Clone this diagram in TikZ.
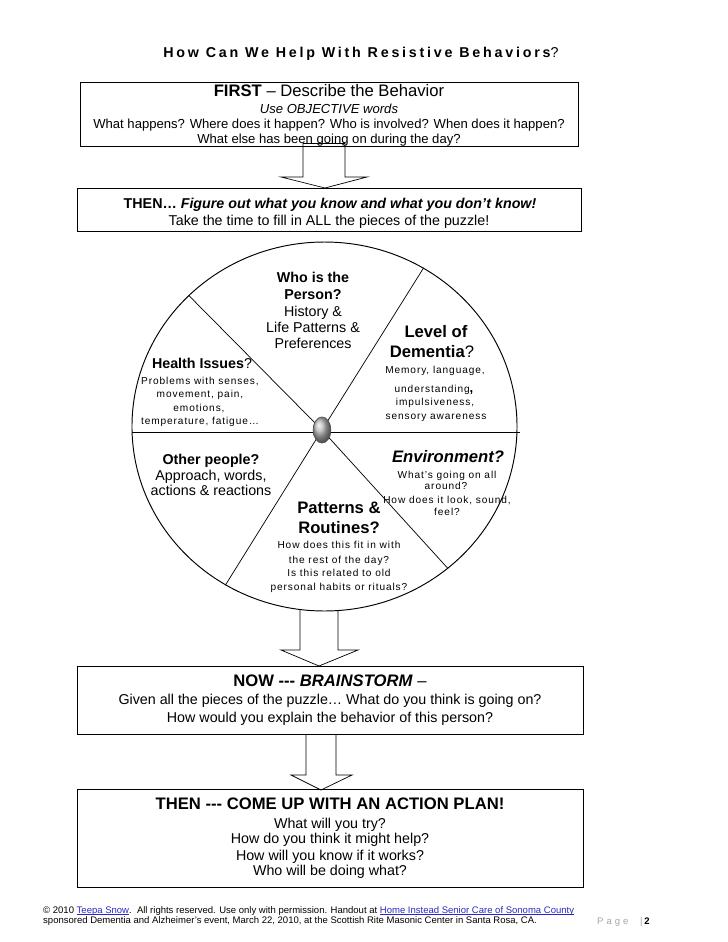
\documentclass[tikz,border=0pt]{standalone}
\usepackage{fontspec}
\setmainfont{Liberation Sans}
\newfontfamily\spc[LetterSpace=9]{Liberation Sans}
\newfontfamily\ttl[LetterSpace=19.5]{Liberation Sans}
\newfontfamily\pgf[LetterSpace=31]{Liberation Sans}
\usetikzlibrary{fit,shapes.geometric}
\definecolor{linkblue}{RGB}{40,40,200}
\newcommand\fsz[1]{\fontsize{#1}{#1}\selectfont}
\newcommand\hyp{-\kern0pt-\kern0pt-}
\newcommand\lnk[1]{\textcolor{linkblue}{\setbox0=\hbox{#1}\rlap{\rule[-1.2pt]{\wd0}{0.4pt}}\box0}}
\begin{document}
\begin{tikzpicture}[x=0.8407pt,y=-0.8407pt,
  box/.style={draw,line width=0.8pt,inner sep=0pt},
  t/.style={anchor=mid,inner sep=0pt,yshift=-2.4pt,font=\fsz{12pt}},
  t11/.style={t,font=\fsz{11pt}},
  tb/.style={t,font=\fsz{12pt}\bfseries},
  tbig/.style={t,font=\fsz{14pt}\bfseries},
  sm/.style={t,font=\spc\fsz{8.5pt}},
  foot/.style={anchor=mid west,inner sep=0pt,yshift=-0.9pt,font=\fsz{8pt}},
  blk/.style={draw,line width=0.6pt,line join=miter},
  spoke/.style={line width=0.6pt}]
\fill[white] (0,0) rectangle (728,942);
\useasboundingbox (0,0) rectangle (728,942);

% title
\node (title) [t, font=\ttl\fsz{12pt}\bfseries] at (361,52) {How Can We Help With Resistive Behaviors{\mdseries ?}};

% box 1
\node (b1) [box, fit={(80,82) (578,146)}] {};
\node (b1a) [t, font=\fsz{14pt}] at (329,91) {\textbf{FIRST} – Describe the Behavior};
\node (b1b) [t11, font=\fsz{11pt}\itshape] at (329,108) {Use OBJECTIVE words};
\node (b1c) [t11] at (329,122.5) {What happens? Where does it happen? Who is involved? When does it happen?};
\node (b1d) [t11] at (329,138) {What else has been going on during the day?};

% arrow 1
\draw[blk] (303,143.5) -- (303,177) -- (281,177) -- (325,188) -- (367,177) -- (345,177) -- (345,143.5) -- cycle;

% box 2
\node (b2) [box, fit={(77,188) (581,231)}] {};
\node (b2a) [tb] at (330,202) {THEN… \textit{Figure out what you know and what you don’t know!}};
\node (b2b) [t] at (329,219) {Take the time to fill in ALL the pieces of the puzzle!};

% wheel
\node (wheel) [draw, ellipse, line width=0.8pt, minimum width=323.7pt, minimum height=310.2pt, inner sep=0pt] at (324.5,426.5) {};
\coordinate (hc) at (322,430);
\coordinate (hl) at (132,432);
\coordinate (hr) at (520,432);
\draw[spoke] (hl) -- (hr);
\draw[spoke] (hc) -- (wheel.136);
\draw[spoke] (hc) -- (wheel.58);
\draw[spoke] (hc) -- (wheel.238.5);
\draw[spoke] (hc) -- (wheel.311.5);
\node (hub) [ellipse, draw=black!70, line width=0.5pt, minimum width=15pt, minimum height=22pt, inner sep=0pt, shading=ball, ball color=gray!55] at (hc) {};

% who is the person
\node (w1) [tb] at (313,276) {Who is the};
\node (w2) [tb] at (313,293) {Person?};
\node (w3) [t] at (313,310) {History \&};
\node (w4) [t] at (313,326) {Life Patterns \&};
\node (w5) [t] at (313,342) {Preferences};

% level of dementia
\node (d1) [tbig] at (436,331) {Level of};
\node (d2) [t, font=\fsz{14pt}] at (432,351) {\textbf{Dementia}?};
\node (d3) [sm] at (435,367) {Memory, language,};
\node (d4) [sm] at (434,386) {understanding{\fsz{11pt}\bfseries ,}};
\node (d5) [sm] at (435,399) {impulsiveness,};
\node (d6) [sm] at (436,413) {sensory awareness};

% health issues
\node (h1) [t] at (202,362) {\textbf{Health Issues}?};
\node (h2) [sm] at (200,378) {Problems with senses,};
\node (h3) [sm] at (200,391) {movement, pain,};
\node (h4) [sm] at (199,405) {emotions,};
\node (h5) [sm] at (200,418) {temperature, fatigue…};

% other people
\node (o1) [tb] at (211,458) {Other people?};
\node (o2) [t] at (211,474) {Approach, words,};
\node (o3) [t] at (211,489) {actions \& reactions};

% environment
\node (e1) [t, font=\fsz{14pt}\bfseries\itshape] at (448,456) {Environment?};
\node (e2) [sm] at (447,472) {What’s going on all};
\node (e3) [sm] at (446,483) {around?};
\node (e4) [sm] at (447,497) {How does it look, sound,};
\node (e5) [sm] at (447,509) {feel?};

% patterns & routines
\node (p1) [tbig] at (339,507) {Patterns \&};
\node (p2) [tbig] at (339,527) {Routines?};
\node (p3) [sm] at (339,542) {How does this fit in with};
\node (p4) [sm] at (339,557) {the rest of the day?};
\node (p5) [sm] at (339,570) {Is this related to old};
\node (p6) [sm] at (339,584) {personal habits or rituals?};

% arrow 2
\draw[blk] (300,609.5) -- (300,650) -- (281,650) -- (319,666) -- (358,650) -- (338,650) -- (338,610.5);

% box 3
\node (b3) [box, fit={(77,666) (583,734)}] {};
\node (b3a) [t, font=\fsz{14pt}] at (330,680) {\textbf{NOW \hyp{} \textit{BRAINSTORM}} –};
\node (b3b) [t] at (330,698) {Given all the pieces of the puzzle… What do you think is going on?};
\node (b3c) [t] at (330,716) {How would you explain the behavior of this person?};

% arrow 3
\draw[blk] (306,734) -- (306,775) -- (291,775) -- (321,790) -- (352,775) -- (336,775) -- (336,734);

% box 4
\node (b4) [box, fit={(77,789) (583,887)}] {};
\node (b4a) [tbig] at (330,803) {THEN \hyp{} COME UP WITH AN ACTION PLAN!};
\node (b4b) [t] at (330,822) {What will you try?};
\node (b4c) [t] at (330,837.5) {How do you think it might help?};
\node (b4d) [t] at (330,854) {How will you know if it works?};
\node (b4e) [t] at (330,869.5) {Who will be doing what?};

% footer
\node (f1) [foot] at (43,909) {© 2010 \lnk{Teepa Snow}.\ \ All rights reserved. Use only with permission. Handout at \lnk{Home Instead Senior Care of Sonoma County}};
\node (f2) [foot] at (43,919.5) {sponsored Dementia and Alzheimer’s event, March 22, 2010, at the Scottish Rite Masonic Center in Santa Rosa, CA.};
\node (pg1) [foot, font=\pgf\fsz{8pt}, text=gray!70] at (597,920) {Page};
\node (pg2) [foot] at (640,920) {\textcolor{gray!70}{|}\,\textbf{2}};
\end{tikzpicture}
\end{document}
